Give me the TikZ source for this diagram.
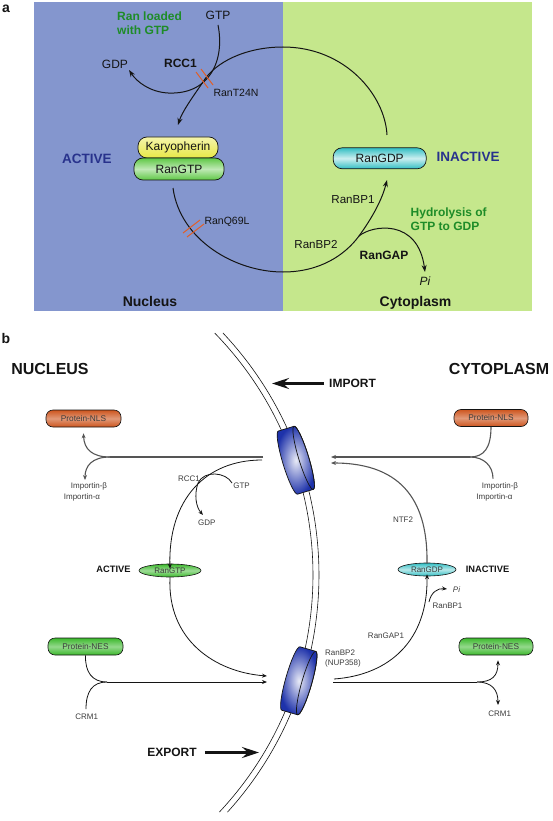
\documentclass[tikz,border=0pt]{standalone}
\usepackage{fontspec}
\setmainfont{Liberation Sans}
\usetikzlibrary{arrows.meta,shapes.geometric}
\definecolor{bgblue}{RGB}{132,150,206}
\definecolor{bggreen}{RGB}{197,231,140}
\definecolor{txtblue}{RGB}{40,50,140}
\definecolor{txtgreen}{RGB}{30,140,40}
\definecolor{markred}{RGB}{225,95,40}
\definecolor{ink}{RGB}{20,20,20}
\definecolor{inkb}{RGB}{60,60,60}
\definecolor{impgray}{RGB}{85,85,85}
\definecolor{yelA}{RGB}{232,232,70}
\definecolor{grnA}{RGB}{95,200,70}
\definecolor{cyaA}{RGB}{50,190,195}
\definecolor{orgB}{RGB}{205,85,30}
\definecolor{grnB}{RGB}{60,185,45}
\definecolor{poreblue}{RGB}{30,50,170}
\tikzset{
  txtA/.style={inner sep=0pt, text=ink, font=\fontsize{12}{14}\selectfont},
  smlA/.style={inner sep=0pt, text=ink, font=\fontsize{10.5}{12}\selectfont},
  bldA/.style={inner sep=0pt, text=ink, font=\bfseries\fontsize{12}{14}\selectfont},
  bigA/.style={inner sep=0pt, text=ink, font=\bfseries\fontsize{14}{16}\selectfont},
  stateA/.style={inner sep=0pt, text=txtblue, font=\bfseries\fontsize{13.5}{16}\selectfont},
  grnT/.style={inner sep=0pt, text=txtgreen, font=\bfseries\fontsize{12}{13.5}\selectfont, align=left},
  boxA/.style={draw=ink, line width=0.7pt, rounded corners=9pt, inner sep=0pt, font=\fontsize{12}{14}\selectfont, text=ink},
  flowA/.style={draw=ink, line width=1pt, -{Stealth[length=7pt,width=5pt]}},
  markA/.style={draw=markred, line width=1pt},
  labB/.style={inner sep=0pt, text=inkb, font=\fontsize{8}{10}\selectfont},
  headB/.style={inner sep=0pt, text=ink, font=\bfseries\fontsize{16}{18}\selectfont},
  stateB/.style={inner sep=0pt, text=ink, font=\bfseries\fontsize{9.3}{11}\selectfont},
  dirB/.style={inner sep=0pt, text=ink, font=\bfseries\fontsize{12}{14}\selectfont},
  bigarrow/.style={draw=ink, line width=3pt, -{Stealth[length=17pt,width=11pt,inset=6pt]}},
  flowB/.style={draw=ink, line width=0.8pt, -{Stealth[length=5pt,width=4pt]}},
  lineB/.style={draw=ink, line width=0.8pt},
  impB/.style={draw=impgray, line width=1.1pt},
  impBa/.style={draw=impgray, line width=1.1pt, -{Stealth[length=5pt,width=4pt]}},
  protB/.style={draw=ink, line width=0.6pt, rounded corners=7pt, inner sep=0pt, minimum height=17pt, font=\fontsize{8.3}{10}\selectfont, text=inkb},
  ellB/.style={ellipse, draw=ink, line width=0.6pt, inner sep=0pt, font=\fontsize{8}{9}\selectfont, text=inkb},
  pore/.pic={
    \path[draw=ink, line width=0.7pt, inner color=white!90!poreblue, outer color=poreblue]
      (-9,-33) -- (7.5,-33) arc[start angle=-90,end angle=90,x radius=5,y radius=33]
      -- (-9,33) arc[start angle=90,end angle=270,x radius=5,y radius=33] -- cycle;
    \draw[ink, line width=0.7pt] (7.5,0) ellipse[x radius=5, y radius=33];
  }
}
\begin{document}
\begin{tikzpicture}[x=1pt,y=-1pt]
\path[use as bounding box] (0,0) rectangle (553,821);
% ================= panel a =================
\fill[bgblue] (34,2) rectangle (283,311);
\fill[bggreen] (283,2) rectangle (532,311);
\node[bigA] (la) at (6,9) {a};

\coordinate (topS) at (387,135);
\coordinate (topE) at (178,125);
\coordinate (botS) at (173,188);
\coordinate (botE) at (387,180);
\coordinate (gapS) at (359,236);
\coordinate (piTip) at (425,272);
\coordinate (gtpS) at (218,25);
\coordinate (gdpE) at (129,70);

\draw[flowA] (topS) .. controls (385,95) and (345,47) .. (283,47)
   .. controls (246,47) and (215,62) .. (203,82)
   .. controls (192,98) and (182,112) .. (topE);
\draw[flowA] (gtpS) .. controls (225,60) and (210,95) .. (168,93)
   .. controls (150,92) and (137,82) .. (gdpE);
\draw[flowA] (botS) .. controls (180,240) and (235,272) .. (283,272)
   .. controls (320,272) and (345,255) .. (gapS)
   .. controls (372,218) and (382,200) .. (botE);
\draw[flowA] (gapS) .. controls (372,225) and (418,218) .. (piTip);

\draw[markA] (196,72) -- (208,88);
\draw[markA] (201,69) -- (213,85);
\draw[markA] (183,233) -- (200,220);
\draw[markA] (187,237) -- (204,224);

\node[boxA, minimum width=80pt, minimum height=21pt, top color=yelA!45!white, bottom color=yelA] (karyo) at (178,147.5) {Karyopherin};
\node[boxA, minimum width=90pt, minimum height=22pt, top color=grnA, bottom color=grnA, middle color=grnA!40!white] (rangtpA) at (179,169) {RanGTP};
\node[boxA, minimum width=93pt, minimum height=21pt, top color=cyaA, bottom color=cyaA, middle color=cyaA!25!white] (rangdpA) at (379.7,158.3) {RanGDP};

\node[grnT, anchor=north west] (ranloaded) at (117,12) {Ran loaded\\with GTP};
\node[txtA] (gtpA) at (218,15) {GTP};
\node[txtA] (gdpA) at (115,64) {GDP};
\node[bldA] (rcc1A) at (180.5,63) {RCC1};
\node[smlA] (t24n) at (236,92.5) {RanT24N};
\node[stateA] (activeA) at (87,158.5) {ACTIVE};
\node[stateA] (inactiveA) at (468,156.5) {INACTIVE};
\node[smlA] (q69l) at (227,222) {RanQ69L};
\node[txtA, font=\fontsize{11.6}{13}\selectfont] (bp1A) at (353,200) {RanBP1};
\node[txtA, font=\fontsize{11.6}{13}\selectfont] (bp2A) at (316,245) {RanBP2};
\node[bldA] (gapA) at (384,255) {RanGAP};
\node[grnT, anchor=north west] (hydro) at (410.5,208) {Hydrolysis of\\GTP to GDP};
\node[txtA, font=\itshape\fontsize{12}{14}\selectfont] (piA) at (425,281) {Pi};
\node[bigA] (nucA) at (150,301) {Nucleus};
\node[bigA] (cytA) at (415.5,303) {Cytoplasm};

% ================= panel b =================
\node[bigA] (lb) at (6,338) {b};
\node[headB] (nucB) at (50,368.5) {NUCLEUS};
\node[headB] (cytB) at (499,368.5) {CYTOPLASM};

% membrane
\draw[ink, line width=0.6pt] (-34,575) ++(-44.2:347) arc[start angle=-44.2, end angle=43.1, radius=347];
\draw[ink, line width=0.6pt] (-34,575) ++(-43.3:353) arc[start angle=-43.3, end angle=42.2, radius=353];
\pic[rotate=17] at (296.5,460) {pore};
\pic[rotate=-16] at (299.5,681) {pore};

% import / export arrows
\node[dirB, anchor=west] (importT) at (329,383.5) {IMPORT};
\coordinate (impTip) at (272,383.5);
\draw[bigarrow] ([xshift=-5pt]importT.west) -- (impTip);
\node[dirB] (exportT) at (172,752.5) {EXPORT};
\coordinate (expTip) at (259,752.5);
\draw[bigarrow] ([xshift=8pt]exportT.east) -- (expTip);

% nodes
\node[protB, minimum width=75pt, top color=orgB, bottom color=orgB, middle color=orgB!60!white] (nlsL) at (83.5,418.5) {Protein-NLS};
\node[protB, minimum width=74pt, top color=orgB, bottom color=orgB, middle color=orgB!60!white] (nlsR) at (491,418) {Protein-NLS};
\node[protB, minimum width=75pt, top color=grnB, bottom color=grnB, middle color=grnB!55!white] (nesL) at (85.5,646.5) {Protein-NES};
\node[protB, minimum width=74pt, top color=grnB, bottom color=grnB, middle color=grnB!55!white] (nesR) at (496,646.5) {Protein-NES};
\node[ellB, minimum width=62pt, minimum height=13pt, top color=grnB, bottom color=grnB, middle color=grnB!50!white] (rangtpB) at (170,570.5) {RanGTP};
\node[ellB, minimum width=58pt, minimum height=13pt, top color=cyaA, bottom color=cyaA, middle color=cyaA!35!white] (rangdpB) at (427,569.5) {RanGDP};
\node[stateB] (activeB) at (113.5,569.5) {ACTIVE};
\node[stateB] (inactiveB) at (487.5,569.5) {INACTIVE};

\node[labB] (impbL) at (89,486.5) {Importin-β};
\node[labB] (impaL) at (82,497) {Importin-α};
\node[labB] (impbR) at (500,486.5) {Importin-β};
\node[labB] (impaR) at (494.5,497) {Importin-α};
\node[labB] (rcc1B) at (189,479) {RCC1};
\node[labB] (gtpB) at (241.5,486) {GTP};
\node[labB] (gdpB) at (206.7,523) {GDP};
\node[labB] (ntf2) at (403,520) {NTF2};
\node[labB, font=\itshape\fontsize{8}{10}\selectfont] (piB) at (456.5,590) {Pi};
\node[labB] (bp1B) at (447.5,606) {RanBP1};
\node[labB] (gap1B) at (386,635.5) {RanGAP1};
\node[labB, anchor=north west, align=left, font=\fontsize{8}{10}\selectfont] (bp2B) at (325,650) {RanBP2\\(NUP358)};
\node[labB] (crmL) at (86.7,716.7) {CRM1};
\node[labB] (crmR) at (499.7,713.3) {CRM1};

% import connectors
\coordinate (impR) at (470,457);
\coordinate (impL) at (110,457);
\coordinate (poreAL) at (263,457);
\coordinate (poreAR) at (331,457);
\draw[impB] (nlsR.south) .. controls (491,448) and (484,457) .. (impR);
\draw[impB] ([yshift=4pt]impbR.north -| 493,0) .. controls (493,466) and (484,457) .. (impR);
\draw[impBa] (impR) -- (poreAR);
\draw[impB] (poreAL) -- (impL);
\draw[impBa] (impL) .. controls (92,457) and (84,449) .. ([yshift=-6pt]nlsL.south);
\draw[impBa] (impL) .. controls (92,457) and (85,466) .. (85,480);

% Ran cycle connectors
\coordinate (rccS) at (262,460);
\coordinate (gtpHook) at (232,483);
\coordinate (gdpHook) at (203,515);
\draw[flowB] (rccS) .. controls (205,460) and (168,500) .. ([yshift=-5pt]rangtpB.north);
\draw[flowB] (gtpHook) .. controls (226,472) and (204,470) .. (198,483) .. controls (194,495) and (196,507) .. (gdpHook);
\coordinate (pore2L) at (267,676);
\draw[flowB] (rangtpB.south) .. controls (167,640) and (215,672) .. (pore2L);
\coordinate (pore2R) at (334,679);
\coordinate (bp1fork) at (429,602);
\draw[flowB] (pore2R) .. controls (390,675) and (428,640) .. ([yshift=2pt]rangdpB.south);
\draw[flowB] (bp1fork) .. controls (431,592) and (438,588) .. (447,589);
\draw[impBa] ([yshift=-1pt]rangdpB.north) .. controls (428,505) and (405,463) .. (331,463);

% export connectors
\coordinate (expL) at (107,682);
\coordinate (expR) at (477,682);
\draw[lineB] (nesL.south) .. controls (85,672) and (92,682) .. (expL);
\draw[lineB] (86,709) .. controls (86,692) and (92,682) .. (expL);
\draw[flowB] (expL) -- (267,682);
\draw[lineB] (333,682) -- (expR);
\draw[flowB] (expR) .. controls (492,682) and (498,676) .. ([yshift=-5pt]nesR.south -| 498,0);
\draw[flowB] (expR) .. controls (492,682) and (498,690) .. (498,705);
\end{tikzpicture}
\end{document}
